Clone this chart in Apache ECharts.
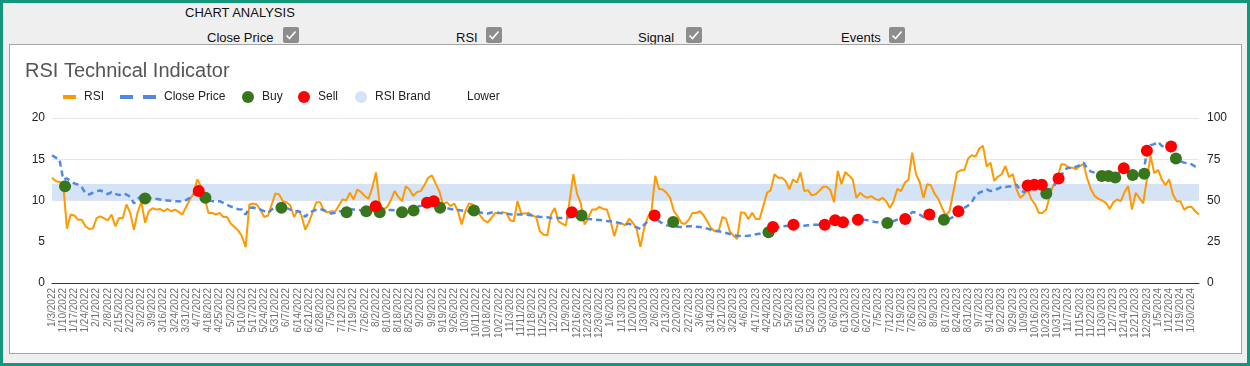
<!DOCTYPE html>
<html>
<head>
<meta charset="utf-8">
<script src="https://cdn.jsdelivr.net/npm/echarts@6/dist/echarts.min.js"></script>
<style>
  html, body { margin: 0; padding: 0; width: 1250px; height: 366px; overflow: hidden; background: #efefef; font-family: "Liberation Sans", Arial, sans-serif; }
  #frame { position: absolute; left: 0; top: 0; width: 1244px; height: 360px; border: 3px solid #12977a; }
  .hdr { position: absolute; font-size: 13px; color: #111; line-height: 15px; white-space: nowrap; }
  .cb { position: absolute; width: 16px; height: 16px; background: #8d8d8d; border-radius: 2px; }
  .cb svg { position: absolute; left: 0; top: 0; }
  #box { position: absolute; left: 9px; top: 44px; width: 1231px; height: 308px; background: #fff; border: 1px solid #a4a4a4; }
  #chart { position: absolute; left: 0; top: 0; width: 1250px; height: 366px; }
</style>
</head>
<body>
<div id="frame"></div>
<div class="hdr" style="left:185px;top:5px;">CHART ANALYSIS</div>
<div class="hdr" style="left:207px;top:30px;">Close Price</div>
<div class="cb" style="left:283px;top:27px;"><svg width="16" height="16"><polyline points="3.5,8.5 6.5,11.5 12.5,4.5" fill="none" stroke="#fff" stroke-width="1.6"/></svg></div>
<div class="hdr" style="left:456px;top:30px;">RSI</div>
<div class="cb" style="left:486px;top:27px;"><svg width="16" height="16"><polyline points="3.5,8.5 6.5,11.5 12.5,4.5" fill="none" stroke="#fff" stroke-width="1.6"/></svg></div>
<div class="hdr" style="left:638px;top:30px;">Signal</div>
<div class="cb" style="left:686px;top:27px;"><svg width="16" height="16"><polyline points="3.5,8.5 6.5,11.5 12.5,4.5" fill="none" stroke="#fff" stroke-width="1.6"/></svg></div>
<div class="hdr" style="left:841px;top:30px;">Events</div>
<div class="cb" style="left:889px;top:27px;"><svg width="16" height="16"><polyline points="3.5,8.5 6.5,11.5 12.5,4.5" fill="none" stroke="#fff" stroke-width="1.6"/></svg></div>
<div id="box"></div>
<div id="chart"></div>
<script>
// ---- tick labels (one per 3 data points) ----
const dateLabels = ['1/3/2022','1/10/2022','1/17/2022','1/24/2022','2/1/2022','2/8/2022','2/15/2022','2/22/2022','3/2/2022','3/9/2022','3/16/2022','3/24/2022','3/31/2022','4/7/2022','4/18/2022','4/25/2022','5/2/2022','5/10/2022','5/17/2022','5/24/2022','5/31/2022','6/7/2022','6/14/2022','6/21/2022','6/28/2022','7/5/2022','7/12/2022','7/19/2022','7/26/2022','8/2/2022','8/10/2022','8/18/2022','8/25/2022','9/2/2022','9/9/2022','9/19/2022','9/26/2022','10/3/2022','10/11/2022','10/18/2022','10/27/2022','11/3/2022','11/11/2022','11/18/2022','11/25/2022','12/2/2022','12/9/2022','12/16/2022','12/23/2022','12/30/2022','1/6/2023','1/13/2023','1/20/2023','1/30/2023','2/6/2023','2/13/2023','2/20/2023','2/27/2023','3/6/2023','3/14/2023','3/21/2023','3/28/2023','4/6/2023','4/17/2023','4/24/2023','5/2/2023','5/9/2023','5/16/2023','5/23/2023','5/30/2023','6/6/2023','6/13/2023','6/20/2023','6/27/2023','7/5/2023','7/12/2023','7/19/2023','7/26/2023','8/2/2023','8/9/2023','8/17/2023','8/24/2023','8/31/2023','9/7/2023','9/14/2023','9/22/2023','9/29/2023','10/9/2023','10/16/2023','10/23/2023','10/31/2023','11/7/2023','11/15/2023','11/22/2023','11/30/2023','12/7/2023','12/14/2023','12/21/2023','12/29/2023','1/5/2024','1/12/2024','1/19/2024','1/30/2024'];

// ---- RSI (right axis, 0-100) ----
const rsiValues = [
63.8,61.8,61.2,60.5,33,41.5,40.9,38.4,38.4,34.4,
32.7,33.1,39.4,40.4,39.2,38.0,41.5,34.4,39.4,39.2,
47.6,42.5,32.3,42.9,49,36.5,43.5,45.3,44.5,44.9,
43.5,44.9,43.5,44.5,43.1,41.5,46.1,50.6,54.1,62.8,
58.7,51.6,42.5,42.5,41.5,42.5,40.0,40.0,36.0,34.0,
31.9,28.3,21.7,47.6,48.2,47.6,44.1,40.0,40.9,47.6,
54.3,53.7,49.6,49.0,47.0,40.0,44.1,40.9,32.3,36.8,
42.9,49.0,49.0,43.9,42.9,43.5,43.2,46.8,50.6,50.2,
54.7,50.6,56.7,55.1,52.7,51.0,57.7,67,47.6,44.5,
46.1,50.2,55.7,52.2,49.6,58.7,56.7,52.7,55.1,55.7,
59.2,63.8,65.2,60.4,55.7,47.6,49.0,46.6,48.2,43.5,
35.4,43.5,48.2,47.6,44.1,40.9,38.0,36.8,39.4,42.5,
42.1,42.9,42.5,38.0,37.4,49.6,42.1,42.1,42.5,40.9,
40.0,31.3,29.3,28.9,41.5,45.5,37.4,36.0,34.8,50,
66,54,48.2,35.4,39.4,44.5,44.5,46.1,44.9,44.5,
37.4,28.3,36.4,36.0,35,39,36.4,32.7,22,33,
40.0,44,65,57,56.7,54.7,51.6,43.5,40.4,36.4,
35.8,38.4,42.5,42.5,43.5,40.9,37.2,33.1,31.3,31.3,
40,38.8,31.3,28.7,26.6,42.9,42.5,38.8,42.5,38.8,
38.8,46.6,54.7,56.3,65.9,63.8,63.8,61.8,56.7,62.8,
60.8,67,55.7,56.3,53.1,53.7,55.7,58.3,58.3,56.3,
49,68,59.8,67.3,65.2,62.8,51.6,54.7,52.7,51.6,
52.7,51.0,50.2,51.6,49.6,45.5,49.6,57.1,55.7,60.8,
62.8,79,66,61.2,51.6,59.8,59.2,54.1,51.0,45.5,
40.9,43.5,54.7,66.9,68.3,68.5,75.4,77.4,76.6,81.5,
83.1,70.5,73,62,64.4,65.9,70.9,64.2,65.9,56.7,
51.6,53.7,56.7,50.6,47.6,42.5,42.5,44.5,53.7,59.8,
63.8,72.0,71.8,69.9,69.9,68.9,70.9,72.0,63.2,56.7,
52.7,51.0,50.0,48.6,44.9,49.0,50.6,49.6,55.1,58.7,
44.5,54.7,51.6,48.2,62.8,77,66.5,68.5,62.8,59.2,
62.8,53.7,49.6,49.6,44.5,46.0,46.1,43.5,41.5];

// ---- Close price (left axis, 0-20) ----
const closeValues = [
15.49,15.2,15.0,12.56,12.68,12.36,12.07,11.91,11.63,10.86,
10.73,10.94,11.14,11.22,11.02,10.77,11.02,10.81,10.65,10.86,
10.73,10.45,9.64,10.2,10.53,10.61,10.24,10.33,10.2,10.12,
10.04,10.0,9.96,9.92,9.92,9.84,10.04,10.33,10.73,11.14,
10.94,10.45,10.04,9.92,9.92,9.92,9.72,9.47,9.27,9.11,
8.94,8.9,8.29,9.11,9.15,9.03,8.9,8.7,8.5,8.9,
9.23,9.39,9.27,9.07,8.9,8.7,8.7,8.58,8.01,8.5,
8.7,8.9,8.97,8.82,8.62,8.42,8.5,8.7,8.74,8.82,
8.9,8.9,8.9,8.82,8.7,8.7,8.78,8.78,8.7,8.74,
8.82,8.86,8.82,8.74,8.82,8.9,8.97,9.07,9.23,9.35,
9.47,9.51,9.47,9.35,9.23,9.15,9.07,8.97,8.9,8.86,
8.78,8.7,8.7,8.66,8.62,8.54,8.46,8.42,8.54,8.58,
8.5,8.46,8.42,8.33,8.29,8.29,8.29,8.29,8.25,8.17,
8.09,8.01,8.01,7.97,7.89,7.89,7.89,7.89,7.89,7.97,
8.01,8.01,7.93,7.85,7.77,7.73,7.68,7.64,7.6,7.52,
7.48,7.4,7.32,7.2,7.1,7.2,6.95,6.75,6.55,7.07,
7.48,8.01,8.01,7.48,7.2,7.0,6.95,6.87,6.83,6.79,
6.83,6.87,6.87,6.83,6.79,6.71,6.59,6.46,6.34,6.26,
6.18,6.06,5.94,5.81,5.73,5.69,5.69,5.73,5.81,5.9,
5.98,6.06,6.26,6.46,6.63,6.75,6.83,6.91,6.95,7.0,
6.95,6.91,6.95,7.0,7.03,7.07,7.07,7.11,7.16,7.2,
7.24,7.32,7.32,7.36,7.48,7.6,7.68,7.73,7.68,7.6,
7.48,7.4,7.36,7.28,7.28,7.36,7.52,7.68,7.77,7.93,
8.17,8.6,8.55,8.3,8.0,7.9,7.85,7.77,7.68,7.64,
7.6,7.77,8.01,8.5,8.82,9.11,9.39,9.8,10.61,10.94,
11.14,11.34,11.14,11.26,11.42,11.67,11.63,11.71,11.75,11.91,
11.26,11.02,11.34,11.67,11.75,11.83,11.42,10.94,11.34,11.75,
12.36,13.05,13.78,13.99,13.86,14.11,14.27,14.59,13.86,13.5,
13.38,13.17,12.97,12.97,12.97,12.97,13.17,13.58,13.86,13.46,
13.05,12.97,13.09,13.25,15.81,16.71,16.83,17.12,16.63,16.42,
16.3,15.61,14.92,14.76,14.59,14.51,14.39,14.11,13.99];

// ---- signals: [data-point position, close price] ----
const buyPoints = [[3.5,11.74],[25,10.24],[41.2,10.33],[61.6,9.11],[79.1,8.58],[84.4,8.7],[88,8.58],[94,8.58],[97.1,8.78],[104.2,9.11],[113.3,8.78],[142.2,8.17],[166.8,7.4],[192.4,6.14],[224.3,7.28],[239.5,7.68],[267,10.85],[281.9,12.97],[283.7,12.97],[285.5,12.8],[290.2,13.09],[293.3,13.25],[301.8,15.08]];
const sellPoints = [[39.4,11.14],[86.9,9.31],[100.7,9.72],[102.5,9.92],[139.6,8.58],[161.8,8.17],[193.6,6.79],[199.1,7.07],[207.5,7.07],[210.3,7.6],[212.4,7.36],[216.4,7.68],[229.1,7.77],[235.6,8.29],[243.4,8.7],[262,11.83],[263.8,11.9],[265.8,11.9],[270.3,12.68],[287.8,13.9],[294,16.02],[300.5,16.54]];

// ---- RSI band (right axis units) ----
const rsiBand = [50, 60];
const leftTicks = { min: 0, max: 20, interval: 5 };
const rightTicks = { min: 0, max: 100, interval: 25 };

const POINTS_PER_LABEL = 3;
const categories = [];
dateLabels.forEach(l => { categories.push(l); for (let k = 1; k < POINTS_PER_LABEL; k++) categories.push(''); });
const N = rsiValues.length;

const FONT = '"Liberation Sans", Arial, sans-serif';
const C = { rsi: '#ff9900', close: '#4f88e6', buy: '#38761d', sell: '#ff0000', band: '#d5e3f7' };

function legend(name, left, icon, w, h, color) {
  const item = { name: name, icon: icon };
  if (color) item.itemStyle = { color: color, borderWidth: 0 };
  return {
    left: left, top: 91, padding: 0, itemWidth: w, itemHeight: h, selectedMode: false,
    data: [item],
    textStyle: { fontSize: 12, color: '#222', fontFamily: FONT, padding: [0, 0, 0, 3] }
  };
}

const chart = echarts.init(document.getElementById('chart'), null, { renderer: 'canvas' });
chart.setOption({
  animation: false,
  backgroundColor: 'transparent',
  textStyle: { fontFamily: FONT },
  title: { text: 'RSI Technical Indicator', left: 25, top: 61, padding: 0, textStyle: { fontSize: 20, fontWeight: 'normal', color: '#555', fontFamily: FONT } },
  legend: [
    legend('RSI', 63, 'rect', 13, 4, C.rsi),
    legend('Close Price', 120, 'path://M0,0H13V4H0Z M23,0H36V4H23Z', 36, 4, C.close),
    legend('Buy', 242, 'circle', 12, 12, C.buy),
    legend('Sell', 298, 'circle', 12, 12, C.sell),
    legend('RSI Brand', 355, 'circle', 12, 12, C.band),
    legend('Lower', 447, 'circle', 12, 12, 'rgba(0,0,0,0)')
  ],
  grid: { left: 52, right: 51, top: 118, bottom: 83, containLabel: false },
  xAxis: [
    {
      type: 'category', data: categories, boundaryGap: false,
      axisLine: { lineStyle: { color: '#333', width: 1 } },
      axisTick: { show: false },
      axisLabel: { rotate: 90, interval: (i, v) => v !== '', fontSize: 10, color: '#707070', margin: 5, fontFamily: FONT },
      splitLine: { show: false }
    },
    { type: 'value', min: 0, max: N - 1, show: false }
  ],
  yAxis: [
    {
      type: 'value', min: leftTicks.min, max: leftTicks.max, interval: leftTicks.interval, position: 'left',
      axisLine: { show: false }, axisTick: { show: false },
      axisLabel: { fontSize: 12, color: '#222', margin: 7, fontFamily: FONT },
      splitLine: { lineStyle: { color: ['rgba(0,0,0,0)', 'rgba(0,0,0,0)', '#e6e6e6', '#e6e6e6', '#e6e6e6'], width: 1 } }
    },
    {
      type: 'value', min: rightTicks.min, max: rightTicks.max, interval: rightTicks.interval, position: 'right',
      axisLine: { show: false }, axisTick: { show: false },
      axisLabel: { fontSize: 12, color: '#222', margin: 8, fontFamily: FONT },
      splitLine: { show: false }
    }
  ],
  series: [
    {
      name: 'RSI Brand', type: 'line', xAxisIndex: 0, yAxisIndex: 1, data: [], z: 1,
      itemStyle: { color: C.band }, lineStyle: { color: C.band },
      markArea: { silent: true, itemStyle: { color: C.band }, data: [[{ yAxis: rsiBand[0] }, { yAxis: rsiBand[1] }]] }
    },
    { name: 'Lower', type: 'line', xAxisIndex: 0, yAxisIndex: 1, data: [], itemStyle: { color: 'rgba(0,0,0,0)' } },
    {
      name: 'RSI', type: 'line', xAxisIndex: 0, yAxisIndex: 1, data: rsiValues, showSymbol: false, z: 3,
      itemStyle: { color: C.rsi }, lineStyle: { color: C.rsi, width: 2 }
    },
    {
      name: 'Close Price', type: 'line', xAxisIndex: 0, yAxisIndex: 0, data: closeValues, showSymbol: false, z: 4,
      itemStyle: { color: C.close }, lineStyle: { color: C.close, width: 2.5, type: [6, 4] }
    },
    {
      name: 'Buy', type: 'scatter', xAxisIndex: 1, yAxisIndex: 0, data: buyPoints, symbolSize: 12, z: 5,
      itemStyle: { color: C.buy, opacity: 1 }
    },
    {
      name: 'Sell', type: 'scatter', xAxisIndex: 1, yAxisIndex: 0, data: sellPoints, symbolSize: 12, z: 6,
      itemStyle: { color: C.sell, opacity: 1 }
    }
  ]
});
</script>
</body>
</html>
